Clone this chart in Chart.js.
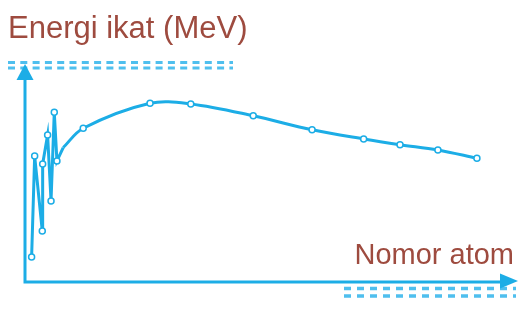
<!DOCTYPE html>
<html>
<head>
<meta charset="utf-8">
<script src="https://cdn.jsdelivr.net/npm/chart.js@4"></script>
<style>
  html, body { margin: 0; padding: 0; background: #fff; }
  #wrap { width: 529px; height: 311px; }
</style>
</head>
<body>
<div id="wrap"><canvas id="bindingChart" width="529" height="311"></canvas></div>
<script>
// Energi ikat per nukleon vs nomor atom
const lightA = [4.0, 5.6, 9.6, 9.8, 12.4, 14.2, 15.9, 17.3, 20.6];
const lightE = [1.14, 5.75, 2.33, 5.39, 6.71, 3.70, 7.75, 5.53, 6.14];
const heavyA = [20.6, 31.1, 66.2, 87.6, 120.4, 151.3, 178.4, 197.5, 217.4, 237.9];
const heavyE = [6.14, 7.02, 8.16, 8.13, 7.59, 6.95, 6.53, 6.27, 6.03, 5.65];

const yLabel = 'Energi ikat (MeV)';
const xLabel = 'Nomor atom';

const lineColor = '#1cade6';
const dashColor = '#4fbfee';
const textColor = '#9e4b3f';

function toPoints(xs, ys) {
    return xs.map((x, i) => ({ x: x, y: ys[i] }));
}

// Sumbu dengan panah, garis putus-putus dan label
const decorPlugin = {
    id: 'decor',
    beforeDraw: (chart) => {
        const ctx = chart.ctx;
        ctx.save();
        ctx.fillStyle = '#fff';
        ctx.fillRect(0, 0, chart.width, chart.height);
        ctx.restore();
    },
    afterDraw: (chart) => {
        const ctx = chart.ctx;
        const x0 = chart.scales.x.getPixelForValue(0) + 1;
        const y0 = chart.scales.y.getPixelForValue(0);
        ctx.save();

        // garis putus-putus
        ctx.strokeStyle = dashColor;
        ctx.lineWidth = 3;
        ctx.setLineDash([7, 5.3]);
        [62.5, 68].forEach(y => {
            ctx.beginPath();
            ctx.moveTo(8, y);
            ctx.lineTo(233, y);
            ctx.stroke();
        });
        ctx.lineWidth = 3.5;
        ctx.setLineDash([7, 6]);
        [288.5, 296].forEach(y => {
            ctx.beginPath();
            ctx.moveTo(344, y);
            ctx.lineTo(516, y);
            ctx.stroke();
        });
        ctx.setLineDash([]);

        // sumbu
        ctx.strokeStyle = lineColor;
        ctx.fillStyle = lineColor;
        ctx.lineWidth = 3;
        ctx.beginPath();
        ctx.moveTo(x0, 78);
        ctx.lineTo(x0, y0);
        ctx.lineTo(504, y0);
        ctx.stroke();
        ctx.beginPath();
        ctx.moveTo(x0, 64);
        ctx.lineTo(x0 - 8.5, 80);
        ctx.lineTo(x0 + 8.5, 80);
        ctx.closePath();
        ctx.fill();
        ctx.beginPath();
        ctx.moveTo(518, y0 - 1);
        ctx.lineTo(500, y0 - 8.5);
        ctx.lineTo(500, y0 + 6.5);
        ctx.closePath();
        ctx.fill();

        // label
        ctx.fillStyle = textColor;
        ctx.font = '31px "Liberation Sans", Arial, sans-serif';
        ctx.textAlign = 'left';
        ctx.textBaseline = 'alphabetic';
        ctx.fillText(yLabel, 8, 38);
        ctx.font = '29px "Liberation Sans", Arial, sans-serif';
        ctx.textAlign = 'right';
        ctx.fillText(xLabel, 514, 264);
        ctx.restore();
    }
};

const ctx = document.getElementById('bindingChart').getContext('2d');
new Chart(ctx, {
    type: 'scatter',
    data: {
        datasets: [
            {
                data: toPoints(lightA, lightE),
                showLine: true,
                borderColor: lineColor,
                borderWidth: 3,
                tension: 0,
                pointRadius: lightA.map((a, i) => i === lightA.length - 1 ? 0 : 3),
                pointBackgroundColor: '#fff',
                pointBorderColor: lineColor,
                pointBorderWidth: 1.5,
                clip: false
            },
            {
                data: toPoints(heavyA, heavyE),
                showLine: true,
                borderColor: lineColor,
                borderWidth: 3,
                tension: 0.35,
                pointRadius: heavyA.map((a, i) => i === 0 ? 0 : 3),
                pointBackgroundColor: '#fff',
                pointBorderColor: lineColor,
                pointBorderWidth: 1.5,
                clip: false
            }
        ]
    },
    options: {
        responsive: false,
        animation: false,
        layout: { padding: { left: 24, right: 10, top: 63, bottom: 29 } },
        plugins: {
            legend: { display: false },
            tooltip: { enabled: false }
        },
        scales: {
            x: { type: 'linear', min: 0, max: 260, display: false },
            y: { type: 'linear', min: 0, max: 10, display: false }
        }
    },
    plugins: [decorPlugin]
});
</script>
</body>
</html>
